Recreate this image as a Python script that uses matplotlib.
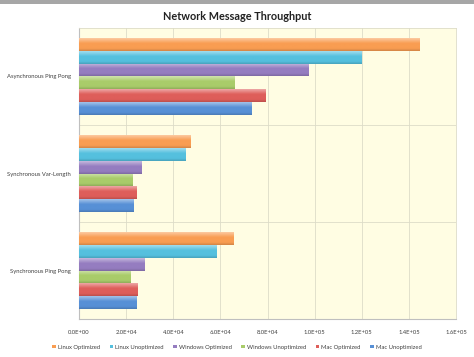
import numpy as np
import matplotlib
matplotlib.use("Agg")
from matplotlib import pyplot as plt
from matplotlib.ticker import FuncFormatter
from matplotlib.colors import to_rgb
from matplotlib.patches import Rectangle

plt.rcParams['font.family'] = ['Lato', 'DejaVu Sans']

categories = ["Asynchronous Ping Pong", "Synchronous Var-Length", "Synchronous Ping Pong"]
seriesNames = ["Linux Optimized", "Linux Unoptimized", "Windows Optimized",
               "Windows Unoptimized", "Mac Optimized", "Mac Unoptimized"]
linuxOptimized = [144500, 47500, 65500]
linuxUnoptimized = [120000, 45300, 58200]
windowsOptimized = [97500, 26700, 28000]
windowsUnoptimized = [65800, 22800, 22000]
macOptimized = [79300, 24300, 25000]
macUnoptimized = [73000, 23300, 24300]
seriesColors = ["#F99D52", "#55C0DE", "#957DC0", "#A9CC6A", "#DE5E5A", "#5790D6"]
xTicks = [0, 20000, 40000, 60000, 80000, 100000, 120000, 140000, 160000]

allSeries = [linuxOptimized, linuxUnoptimized, windowsOptimized,
             windowsUnoptimized, macOptimized, macUnoptimized]


def shadeBar(ax, patch, color):
    # fake the excel gradient: light top, base colour, darker bottom edge
    base = np.array(to_rgb(color))
    light = base + (1 - base) * 0.45
    dark = base * 0.85
    rows = []
    for s in np.linspace(0, 1, 32):
        if s < 0.4:
            c = light + (base - light) * (s / 0.4)
        elif s < 0.8:
            c = base
        else:
            c = base + (dark - base) * ((s - 0.8) / 0.2)
        rows.append(c)
    img = np.clip(np.array(rows), 0, 1)[:, None, :]
    x0, y0 = patch.get_x(), patch.get_y()
    w, h = patch.get_width(), patch.get_height()
    im = ax.imshow(img, extent=(x0, x0 + w, y0, y0 + h), aspect='auto',
                   origin='lower' if ax.yaxis_inverted() else 'upper',
                   zorder=3, interpolation='bilinear')
    im.set_clip_path(patch)


fig = plt.figure(figsize=(4.74, 3.57), dpi=100)
fig.patch.set_facecolor("white")
fig.patches.append(Rectangle((0, 0.99), 1, 0.01, transform=fig.transFigure,
                             facecolor="#A6A6A6", edgecolor="none"))
ax = fig.add_axes([0.1667, 0.1064, 0.7955, 0.8152])
ax.set_facecolor("#FFFDE3")

y = np.arange(len(categories))
groupHeight = 0.8
barHeight = groupHeight / len(allSeries)
ax.set_ylim(-0.5, len(categories) - 0.5)
ax.invert_yaxis()

for i, (name, values, color) in enumerate(zip(seriesNames, allSeries, seriesColors)):
    offset = -groupHeight / 2 + (i + 0.5) * barHeight
    bars = ax.barh(y + offset, values, height=barHeight, color=color,
                   edgecolor="none", label=name, zorder=2)
    for patch in bars.patches:
        shadeBar(ax, patch, color)

ax.set_xlim(0, 160000)
ax.set_xticks(xTicks)
ax.xaxis.set_major_formatter(FuncFormatter(lambda v, p: "{:.1E}".format(v)))
ax.set_yticks(y)
ax.set_yticklabels(categories)
ax.tick_params(axis='both', length=0, labelsize=4.2, colors="#404040", pad=6)
ax.tick_params(axis='x', pad=8)

for v in xTicks[1:]:
    ax.axvline(v, color="#DDDCC8", linewidth=0.6, zorder=1)
for b in [0.5, 1.5]:
    ax.axhline(b, color="#DDDCC8", linewidth=0.6, zorder=1)

for side in ["top", "right"]:
    ax.spines[side].set_color("#DDDCC8")
    ax.spines[side].set_linewidth(0.6)
for side in ["left", "bottom"]:
    ax.spines[side].set_color("#BFBFBF")
    ax.spines[side].set_linewidth(0.8)

fig.text(0.5, 0.955, "Network Message Throughput", ha='center', va='center',
         fontsize=7.8, fontweight='bold', color="#222222")

handles = [Rectangle((0, 0), 1, 1, facecolor=c, edgecolor="none") for c in seriesColors]
fig.legend(handles, seriesNames, loc='center', bbox_to_anchor=(0.5, 0.028),
           ncol=6, frameon=False, fontsize=4.2, handlelength=0.6, handleheight=0.6,
           columnspacing=1.6, handletextpad=0.4, labelcolor="#404040")

fig.savefig("out.png", dpi=100)
